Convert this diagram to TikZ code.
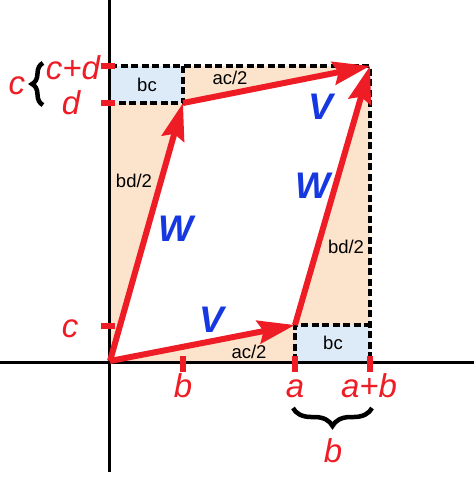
\documentclass[tikz,border=0pt]{standalone}
\usepackage{fontspec}
\setmainfont{Liberation Sans}
\usetikzlibrary{arrows.meta,decorations.pathreplacing}
\definecolor{vred}{HTML}{EE1C25}
\definecolor{vblue}{HTML}{1538E0}
\definecolor{peach}{HTML}{FCE3CB}
\definecolor{lblue}{HTML}{DDEBF8}
\tikzset{
  axis/.style={line width=3pt,black},
  vec/.style={line width=6pt,vred,-{Stealth[length=37pt,width=23pt,inset=5pt]}},
  dashline/.style={line width=3.4pt,black,dash pattern=on 7pt off 3.5pt},
  tick/.style={line width=6pt,vred},
  redlab/.style={text=vred,anchor=base,inner sep=0pt,font=\fontsize{33}{33}\selectfont\itshape},
  veclab/.style={text=vblue,font=\fontsize{37}{37}\selectfont\bfseries\itshape},
  arealab/.style={text=black,font=\fontsize{18.5}{18.5}\selectfont},
  bracestyle/.style={line width=4.5pt,black,decorate,decoration={brace}}
}
\begin{document}
\begin{tikzpicture}[x=1pt,y=-1pt]
\useasboundingbox (0,0) rectangle (474,482);
\coordinate (O) at (110,361);
\coordinate (V) at (295,325);
\coordinate (W) at (183,103);
\coordinate (S) at (370,66);
% fills
\fill[peach] (O) rectangle (S);
\fill[white] (O) -- (V) -- (S) -- (W) -- cycle;
\fill[lblue] (110,66) rectangle (183,103);
\fill[lblue] (295,325) rectangle (370,361);
% dashed borders
\draw[dashline] (110,66) -- (S) -- (370,361);
\draw[dashline] (183,66) -- (183,103) -- (110,103);
\draw[dashline] (295,361) -- (295,325) -- (370,325);
% axes
\coordinate (yt) at (109,0);
\coordinate (yb) at (109,472);
\coordinate (xl) at (0,362);
\coordinate (xr) at (474,362);
\draw[axis] (yt) -- (yb);
\draw[axis] (xl) -- (xr);
% ticks
\draw[tick] (101,326) -- (115,326);
\draw[tick] (101,103) -- (115,103);
\draw[tick] (101,66) -- (115,66);
\draw[tick] (183,356) -- (183,372);
\draw[tick] (295,356) -- (295,372);
\draw[tick] (370,356) -- (370,372);
% area labels
\node[arealab] (bc1) at (147,85) {bc};
\node[arealab] (bc2) at (333,343) {bc};
\node[arealab] (ac1) at (230,78) {ac/2};
\node[arealab] (ac2) at (249,352) {ac/2};
\node[arealab] (bd1) at (134,181) {bd/2};
\node[arealab] (bd2) at (346,247) {bd/2};
% vectors
\draw[vec] (O) -- (V);
\draw[vec] (O) -- (W);
\draw[vec] (W) -- (S);
\draw[vec] (V) -- (S);
\node[veclab] (v1) at (212,320) {V};
\node[veclab] (v2) at (321,107) {V};
\node[veclab] (w1) at (176,229) {W};
\node[veclab] (w2) at (313,186) {W};
% axis labels
\node[redlab] (lc) at (70,337) {c};
\node[redlab] (ld) at (71,114) {d};
\node[redlab] (lcd) at (73,79) {c+d};
\node[redlab] (lc2) at (17,94) {c};
\node[redlab] (lb) at (183,397) {b};
\node[redlab] (la) at (295,397) {a};
\node[redlab] (lab) at (369,397) {a+b};
\node[redlab] (lb2) at (333,462) {b};
% braces
\coordinate (br1a) at (43,105);
\coordinate (br1b) at (43,63);
\draw[bracestyle,decoration={amplitude=11pt}] (br1a) -- (br1b);
\coordinate (br2a) at (372,408);
\coordinate (br2b) at (293,408);
\draw[bracestyle,decoration={amplitude=18pt}] (br2a) -- (br2b);
\end{tikzpicture}
\end{document}
